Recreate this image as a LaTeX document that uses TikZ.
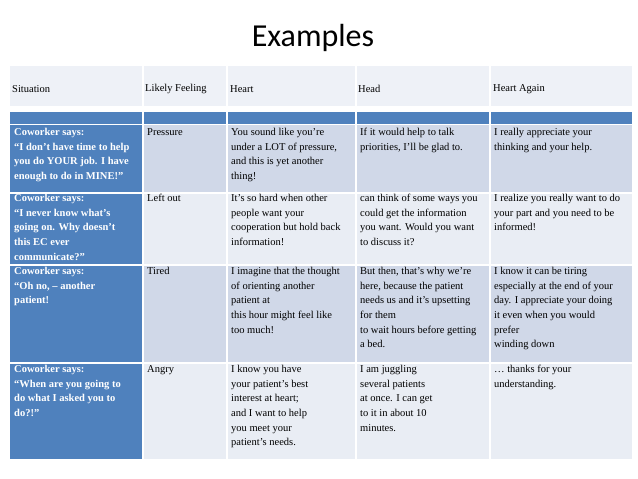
\documentclass[tikz,border=0pt]{standalone}
\usepackage{fontspec}
\setmainfont{Liberation Serif}
\newfontfamily\titlefont{Carlito}
\definecolor{bl}{HTML}{4F81BD}
\definecolor{c1}{HTML}{D0D8E8}
\definecolor{c2}{HTML}{E9EDF4}
\definecolor{hd}{HTML}{EEF1F7}
\begin{document}
\begin{tikzpicture}[x=1pt,y=-1pt,
  cell/.style={anchor=north west,inner sep=0pt,align=left,font=\fontsize{10.5}{14.7}\selectfont},
  bcell/.style={cell,text=white,font=\bfseries\fontsize{10.5}{14.7}\selectfont},
  hcell/.style={anchor=west,inner sep=0pt,font=\fontsize{10.5}{13}\selectfont}]
\useasboundingbox (0,0) rectangle (638,479);
\node (title) at (313,38) {\titlefont\fontsize{32}{36}\selectfont Examples};
% header
\fill[hd] (10,66) rectangle (632,106);
\foreach \x in {143,227,356,490} \draw[white,line width=1.5] (\x,66) -- (\x,106);
\node[hcell] (h1) at (12,89) {Situation};
\node[hcell] (h2) at (145,89) {Likely Feeling};
\node[hcell] (h3) at (230,89) {Heart};
\node[hcell] (h4) at (358,89) {Head};
\node[hcell] (h5) at (493,89) {Heart Again};
% blue strip
\fill[bl] (10,112) rectangle (632,124);
% rows
\fill[bl] (10,125) rectangle (143,459);
\fill[c1] (143,125) rectangle (632,193);
\fill[c2] (143,193) rectangle (632,265);
\fill[c1] (143,265) rectangle (632,363);
\fill[c2] (143,363) rectangle (632,459);
\foreach \y in {124.5,193,265,363} \draw[white,line width=1.5] (10,\y) -- (632,\y);
\foreach \x in {143,227,356,490} \draw[white,line width=1.5] (\x,112) -- (\x,459);
% row 1
\node[bcell] (r1a) at (14,128) {Coworker says:\\“I don’t have time to help\\you do YOUR job. I have\\enough to do in MINE!”};
\node[cell] (r1b) at (147,128) {Pressure};
\node[cell] (r1c) at (231,128) {You sound like you’re\\under a LOT of pressure,\\and this is yet another\\thing!};
\node[cell] (r1d) at (360,128) {If it would help to talk\\priorities, I’ll be glad to.};
\node[cell] (r1e) at (494,128) {I really appreciate your\\thinking and your help.};
% row 2
\node[bcell] (r2a) at (14,194) {Coworker says:\\“I never know what’s\\going on. Why doesn’t\\this EC ever\\communicate?”};
\node[cell] (r2b) at (147,194) {Left out};
\node[cell] (r2c) at (231,194) {It’s so hard when other\\people want your\\cooperation but hold back\\information!};
\node[cell] (r2d) at (360,194) {can think of some ways you\\could get the information\\you want. Would you want\\to discuss it?};
\node[cell] (r2e) at (494,194) {I realize you really want to do\\your part and you need to be\\informed!};
% row 3
\node[bcell] (r3a) at (14,267) {Coworker says:\\“Oh no, -- another\\patient!};
\node[cell] (r3b) at (147,267) {Tired};
\node[cell] (r3c) at (231,267) {I imagine that the thought\\of orienting another\\patient at\\this hour might feel like\\too much!};
\node[cell] (r3d) at (360,267) {But then, that’s why we’re\\here, because the patient\\needs us and it’s upsetting\\for them\\to wait hours before getting\\a bed.};
\node[cell] (r3e) at (494,267) {I know it can be tiring\\especially at the end of your\\day. I appreciate your doing\\it even when you would\\prefer\\winding down};
% row 4
\node[bcell] (r4a) at (14,365) {Coworker says:\\“When are you going to\\do what I asked you to\\do?!”};
\node[cell] (r4b) at (147,365) {Angry};
\node[cell] (r4c) at (231,365) {I know you have\\your patient’s best\\interest at heart;\\and I want to help\\you meet your\\patient’s needs.};
\node[cell] (r4d) at (360,365) {I am juggling\\several patients\\at once. I can get\\to it in about 10\\minutes.};
\node[cell] (r4e) at (494,365) {… thanks for your\\understanding.};
\end{tikzpicture}
\end{document}
